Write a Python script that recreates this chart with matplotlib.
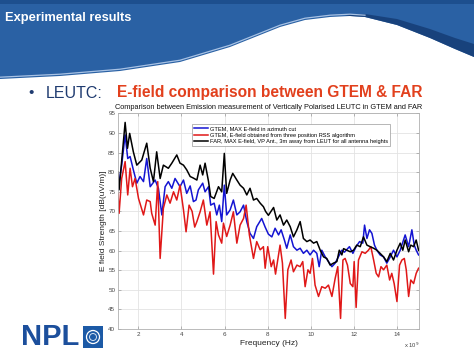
import matplotlib
matplotlib.use("Agg")
import matplotlib.pyplot as plt
from matplotlib.patches import Polygon, Rectangle, Circle

plt.rcParams['font.family'] = ['Liberation Sans', 'DejaVu Sans']

# ---------------- data (frequency in GHz, field strength in dB(uV/m)) -------------
gtem_max_f = [1.07, 1.24, 1.40, 1.52, 1.63, 1.78, 1.94, 2.09, 2.25, 2.40, 2.56, 2.79, 2.94, 3.10,
              3.25, 3.40, 3.56, 3.71, 3.94, 4.10, 4.25, 4.41, 4.56, 4.68, 4.79, 4.99, 5.10, 5.26,
              5.36, 5.52, 5.64, 5.76, 5.87, 5.99, 6.10, 6.26, 6.41, 6.57, 6.72, 6.88, 7.03, 7.18,
              7.34, 7.49, 7.72, 7.88, 8.03, 8.19, 8.34, 8.50, 8.62, 8.77, 8.88, 9.04, 9.19, 9.35,
              9.50, 9.65, 9.81, 9.96, 10.12, 10.27, 10.38, 10.50, 10.66, 10.81, 10.97, 11.12, 11.27,
              11.43, 11.55, 11.63, 11.78, 11.94, 12.09, 12.25, 12.40, 12.48, 12.59, 12.71, 12.82,
              12.94, 13.05, 13.20, 13.36, 13.51, 13.67, 13.82, 13.98, 14.13, 14.36, 14.52, 14.67,
              14.78, 14.87, 14.98]
gtem_max_v = [75.5, 81.8, 89.5, 83.5, 84.0, 80.6, 77.2, 78.9, 77.6, 83.5, 76.3, 78.0, 75.9, 69.1,
              76.3, 77.6, 75.9, 78.4, 76.3, 78.0, 74.6, 76.5, 72.5, 72.9, 75.5, 77.2, 75.0, 76.3,
              71.6, 72.1, 69.1, 71.6, 67.4, 76.7, 69.1, 70.4, 72.9, 69.1, 69.9, 71.6, 67.4, 64.4,
              63.1, 66.1, 68.2, 66.0, 64.2, 63.5, 65.7, 64.0, 65.3, 62.7, 60.6, 64.0, 61.0, 60.1,
              60.6, 59.3, 60.1, 58.9, 60.1, 59.3, 55.9, 60.1, 58.4, 57.2, 55.9, 56.8, 58.4,
              60.1, 59.6, 60.1, 61.0, 59.3, 61.0, 62.3, 61.9, 66.5, 63.1, 65.3, 64.4,
              61.4, 60.1, 58.9, 58.4, 56.8, 58.4, 60.1, 58.4, 60.1, 64.0, 61.0, 65.3,
              61.4, 60.1, 58.9]

gtem_rss_f = [1.07, 1.12, 1.24, 1.40, 1.52, 1.63, 1.74, 1.86, 2.02, 2.25, 2.40, 2.56, 2.63, 2.79,
              2.91, 3.02, 3.17, 3.33, 3.48, 3.64, 3.79, 3.94, 4.10, 4.22, 4.36, 4.50, 4.62, 4.72,
              4.87, 5.02, 5.18, 5.33, 5.49, 5.61, 5.72, 5.87, 5.95, 6.10, 6.26, 6.41, 6.57, 6.72,
              6.88, 7.00, 7.15, 7.34, 7.49, 7.65, 7.80, 7.88, 8.00, 8.16, 8.27, 8.36, 8.57, 8.68,
              8.81, 8.93, 9.08, 9.19, 9.35, 9.50, 9.62, 9.73, 9.86, 9.96, 10.07, 10.19, 10.35,
              10.50, 10.66, 10.81, 10.97, 11.12, 11.24, 11.37, 11.48, 11.58, 11.69, 11.82, 11.94,
              12.00, 12.09, 12.20, 12.36, 12.51, 12.66, 12.77, 12.90, 13.02, 13.13, 13.24, 13.36,
              13.51, 13.64, 13.74, 13.85, 13.98, 14.10, 14.21, 14.32, 14.41, 14.52, 14.62, 14.75,
              14.87, 14.98]
gtem_rss_v = [74.6, 69.5, 78.4, 82.7, 74.2, 81.0, 76.3, 78.4, 73.3, 69.1, 72.9, 72.5, 69.5, 66.5,
              77.6, 58.0, 70.8, 74.2, 72.1, 75.0, 72.9, 76.7, 70.4, 64.8, 71.6, 70.0, 66.0, 67.4,
              69.9, 72.9, 66.5, 69.9, 54.0, 67.4, 64.0, 61.9, 67.0, 63.6, 66.5, 69.9, 61.9, 66.5,
              68.2, 71.6, 64.0, 58.0, 62.3, 60.2, 61.0, 55.5, 61.0, 55.9, 57.6, 54.0, 61.4, 56.8,
              42.7, 55.1, 57.6, 54.6, 56.3, 55.9, 57.2, 50.8, 55.1, 54.2, 58.0, 51.2, 48.3,
              50.8, 50.4, 51.2, 48.3, 52.9, 55.9, 42.7, 57.6, 58.0, 56.3, 51.6, 50.8,
              57.2, 45.5, 57.6, 59.7, 59.3, 60.1, 61.0, 57.6, 54.2, 53.3, 55.9, 55.1,
              56.3, 52.5, 54.2, 51.6, 47.0, 56.3, 57.6, 58.0, 55.1, 48.3, 52.5, 51.6,
              54.2, 55.5]

far_max_f = [1.07, 1.12, 1.40, 1.51, 1.61, 1.78, 1.94, 2.17, 2.40, 2.56, 2.71, 2.86, 3.02, 3.17,
             3.40, 3.56, 3.79, 3.94, 4.10, 4.25, 4.41, 4.56, 4.72, 4.87, 4.99, 5.10, 5.26, 5.36,
             5.52, 5.72, 5.87, 5.99, 6.10, 6.26, 6.38, 6.57, 6.72, 6.88, 7.03, 7.18, 7.34, 7.49,
             7.65, 7.80, 7.90, 8.03, 8.27, 8.42, 8.57, 8.73, 8.88, 9.04, 9.19, 9.35, 9.50, 9.65,
             9.81, 9.96, 10.12, 10.27, 10.43, 10.58, 10.73, 10.89, 11.04, 11.20, 11.31, 11.43,
             11.51, 11.66, 11.82, 11.97, 12.12, 12.28, 12.43, 12.59, 12.74, 12.90, 13.05, 13.20,
             13.36, 13.51, 13.67, 13.82, 13.98, 14.13, 14.25, 14.36, 14.52, 14.62, 14.75, 14.87,
             14.98]
far_max_v = [80.1, 75.5, 92.7, 86.1, 89.9, 85.2, 81.8, 83.1, 87.4, 81.0, 77.6, 85.2, 78.4, 81.8,
             81.0, 82.3, 84.4, 82.3, 81.8, 80.6, 78.9, 78.5, 78.0, 81.8, 79.3, 82.3, 77.6, 73.8,
             73.3, 76.3, 75.0, 84.8, 74.6, 78.0, 79.7, 78.0, 76.7, 75.9, 74.2, 75.9, 72.9, 73.3,
             72.1, 71.2, 70.0, 69.0, 71.0, 67.8, 69.1, 66.5, 67.8, 66.1, 63.5, 65.3, 67.4, 63.1,
             62.3, 62.7, 61.9, 62.3, 60.1, 58.4, 58.0, 56.3, 56.8, 57.2, 60.1, 58.9,
             60.5, 60.1, 59.7, 60.1, 61.4, 61.0, 63.5, 61.4, 61.0, 60.6, 60.1, 59.3,
             58.4, 57.2, 59.3, 57.6, 60.1, 61.9, 60.1, 62.7, 59.7, 61.4, 61.0, 62.7,
             60.1]

series_labels = ["GTEM, MAX E-field in azimuth cut",
                 "GTEM, E-field obtained from three position RSS algorithm",
                 "FAR, MAX E-field, VP Ant., 3m away from LEUT for all antenna heights"]
x_ticks = [2, 4, 6, 8, 10, 12, 14]
y_ticks = [40, 45, 50, 55, 60, 65, 70, 75, 80, 85, 90, 95]

assert len(gtem_max_f) == len(gtem_max_v)
assert len(gtem_rss_f) == len(gtem_rss_v)
assert len(far_max_f) == len(far_max_v)

# ---------------- figure / slide decoration ----------------
W, H = 474, 355
fig = plt.figure(figsize=(W / 100, H / 100), dpi=100)
fig.patch.set_facecolor('white')

deco = fig.add_axes([0, 0, 1, 1])
deco.set_xlim(0, W)
deco.set_ylim(H, 0)
deco.axis('off')

edge_x = [0, 60, 120, 180, 230, 260, 280, 305, 330, 350, 365, 397, 430, 455, 474]
edge_y = [79, 76, 71, 62, 47, 35, 27, 20, 17, 16, 17, 25, 38, 49, 57]
banner = [(0, 0), (474, 0)] + list(zip(edge_x[::-1], edge_y[::-1]))
deco.add_patch(Polygon(banner, closed=True, facecolor='#2a61a4', edgecolor='none'))
deco.add_patch(Rectangle((0, 0), 474, 4, facecolor='#1d4f8e', edgecolor='none'))
# dark navy band along the right part of the wave edge
band_top_x = [340, 365, 397, 430, 455, 474]
band_top_y = [14, 14, 19, 29, 38, 44]
band = list(zip(band_top_x, band_top_y)) + list(zip(edge_x[::-1][:6], edge_y[::-1][:6]))
deco.add_patch(Polygon(band, closed=True, facecolor='#173f78', edgecolor='none', alpha=0.9))
# light highlight just above the left part of the edge
deco.plot(edge_x[:11], [v - 1.8 for v in edge_y[:11]], color='#a8c2e4', lw=0.9)

deco.text(5, 18, "Experimental results", color='white', fontsize=9.3, fontweight='bold',
          va='center', ha='left')
deco.text(28, 93, "\u2022", color='#1f3b70', fontsize=11, va='center', ha='left')
deco.text(46, 93, "LEUTC:", color='#1f3b70', fontsize=11.5, va='center', ha='left')
deco.text(117, 93, "E-field comparison between GTEM & FAR", color='#e2401d', fontsize=11.2,
          fontweight='bold', va='center', ha='left')

# NPL logo
deco.text(21, 337, "NPL", color='#1c4f9c', fontsize=21, fontweight='heavy',
          va='center', ha='left')
deco.add_patch(Rectangle((83, 326), 20, 22, facecolor='#1c5aa6', edgecolor='none'))
deco.add_patch(Circle((93, 337), 6.5, facecolor='none', edgecolor='white', lw=0.9))
deco.add_patch(Circle((93, 337), 3.5, facecolor='none', edgecolor='#d0dff0', lw=0.7))

# ---------------- chart ----------------
ax = fig.add_axes([118 / W, 1 - 329 / H, 301 / W, 215.6 / H])
ax.set_facecolor('white')
ax.plot(gtem_max_f, gtem_max_v, color='#1414d2', lw=1.1, label=series_labels[0])
ax.plot(gtem_rss_f, gtem_rss_v, color='#e01818', lw=1.1, label=series_labels[1])
ax.plot(far_max_f, far_max_v, color='black', lw=1.1, label=series_labels[2])

ax.set_xlim(1.07, 15)
ax.set_ylim(40, 95)
ax.set_xticks(x_ticks)
ax.set_yticks(y_ticks)
ax.grid(True, color='#e3e3e3', lw=0.6)
ax.set_axisbelow(True)
ax.tick_params(direction='in', length=2, width=0.5, colors='#9a9a9a', labelsize=4.5,
               labelcolor='#444444', top=True, right=True, pad=2)
for s in ax.spines.values():
    s.set_color('#b0b0b0')
    s.set_linewidth(0.6)

ax.set_title("Comparison between Emission measurement of Vertically Polarised LEUTC in GTEM and FAR",
             fontsize=5.3, pad=3, color='#111111')
ax.set_xlabel("Frequency (Hz)", fontsize=6, labelpad=2, color='#222222')
ax.set_ylabel("E field Strength [dB(uV/m)]", fontsize=6, labelpad=1, color='#222222')
ax.text(1.0, -0.055, r"x 10$^9$", transform=ax.transAxes, fontsize=4.2, ha='right', va='top',
        color='#444444')

leg = ax.legend(loc='upper left', bbox_to_anchor=(0.237, 0.962), fontsize=4.1,
                handlelength=2.4, handletextpad=0.4, labelspacing=0.25, borderpad=0.35,
                frameon=True, fancybox=False, framealpha=1, edgecolor='#9a9a9a')
leg.get_frame().set_linewidth(0.5)

fig.savefig("out.png", dpi=100)
